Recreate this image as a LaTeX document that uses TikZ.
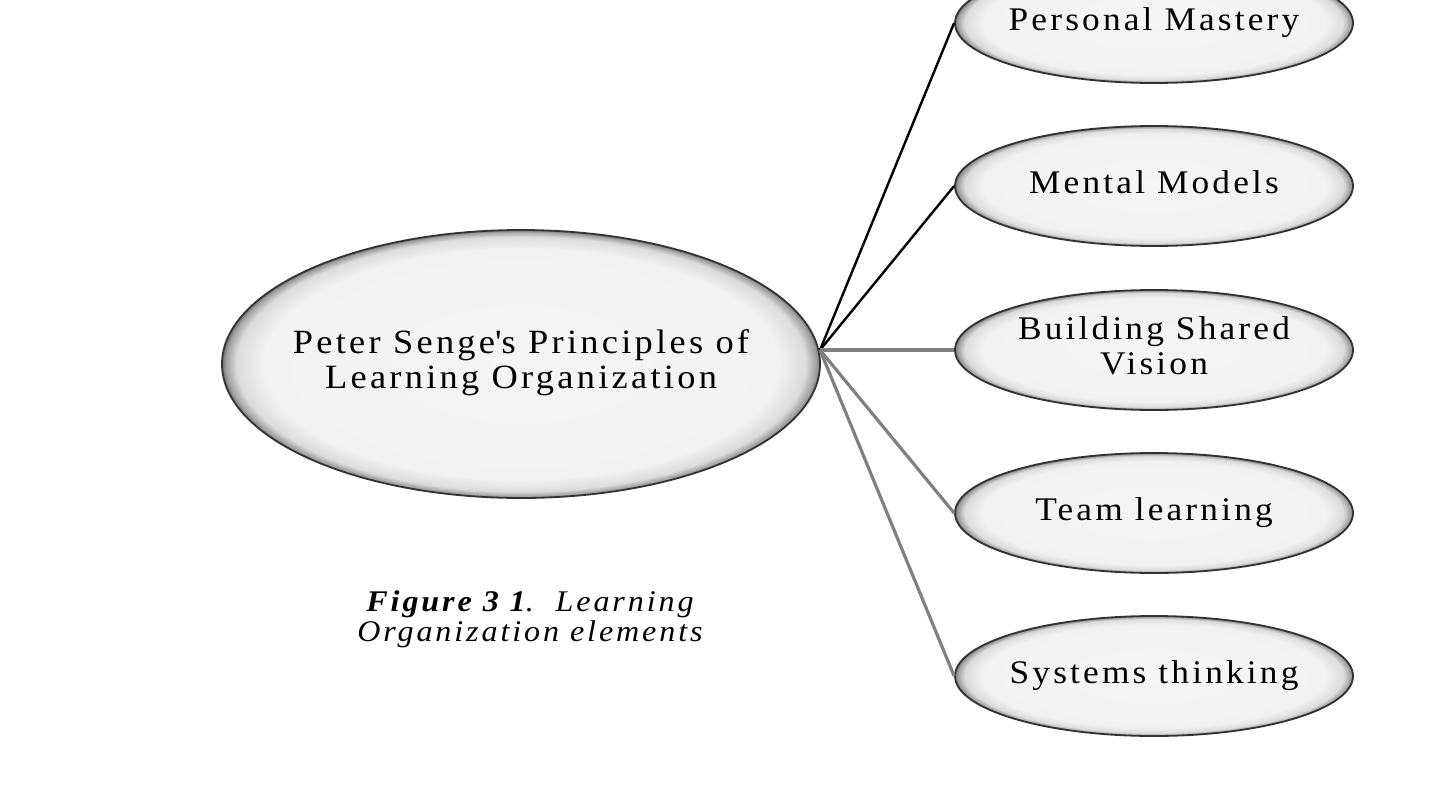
\documentclass[tikz,border=0pt]{standalone}
\usepackage{fontspec}
\usepackage{graphicx}
\setmainfont{Liberation Serif}[LetterSpace=9]
\usetikzlibrary{shapes.geometric}
\newcommand\wl[1]{\makebox[0pt]{\raisebox{-3pt}{\scalebox{1.07}[1]{\begin{tabular}{@{}c@{}}#1\end{tabular}}}}}
\pgfdeclareradialshading{ellshade}{\pgfpoint{0bp}{0bp}}{%
  color(0bp)=(white!96!black);
  color(21.5bp)=(white!95!black);
  color(23.8bp)=(white!86!black);
  color(24.7bp)=(white!62!black);
  color(25bp)=(white!45!black);
  color(50bp)=(white!45!black)}
\tikzset{
  ell/.style={ellipse, draw=black!80, line width=1.8pt, shading=ellshade,
    inner sep=0pt, align=center, font=\fontsize{33}{35}\selectfont},
  small/.style={ell, minimum width=398pt, minimum height=120pt},
  blk/.style={draw=black, line width=2.4pt},
  gry/.style={draw=black!50, line width=3.2pt},
}
\begin{document}
\begin{tikzpicture}[x=1pt,y=-1pt]
\useasboundingbox (0,0) rectangle (1442,795);
\node[ell, minimum width=598pt, minimum height=268pt, font=\fontsize{34}{35}\selectfont] (main) at (521,364) {\wl{Peter Senge\textquotesingle s Principles of\\Learning Organization}};
\node[small] (pm) at (1154,23) {\wl{Personal Mastery}};
\node[small] (mm) at (1154,186) {\wl{Mental Models}};
\node[small] (bsv) at (1154,350) {\wl{Building Shared\\Vision}};
\node[small] (tl) at (1154,513) {\wl{Team learning}};
\node[small] (st) at (1154,676) {\wl{Systems thinking}};
\coordinate (hub) at (820,350);
\draw[blk] (hub) -- (pm.west);
\draw[blk] (hub) -- (mm.west);
\draw[gry] (hub) -- (bsv.west);
\draw[gry] (hub) -- (tl.west);
\draw[gry] (hub) -- (st.west);
\node[align=center, font=\fontsize{30}{30}\selectfont\itshape] (cap) at (530,620) {\wl{\textbf{Figure 3 1}.\ \ Learning\\Organization elements}};
\end{tikzpicture}
\end{document}
